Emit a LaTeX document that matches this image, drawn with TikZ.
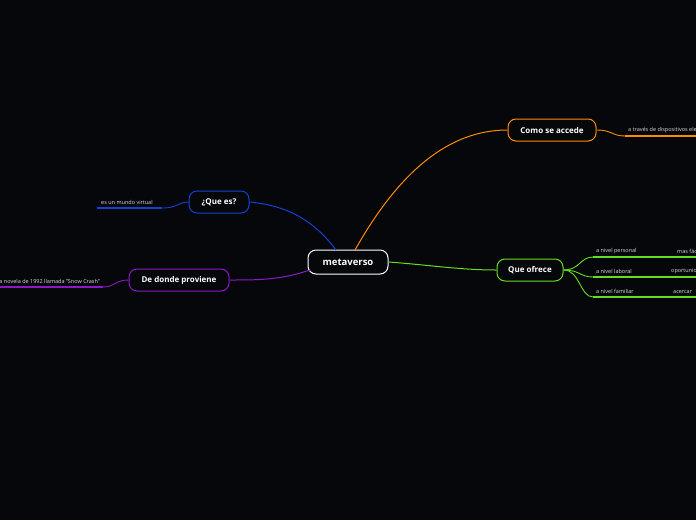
\documentclass[tikz,border=0pt]{standalone}
\usepackage{fontspec}
\setmainfont{Open Sans}
\begin{document}
\begin{tikzpicture}[x=1pt,y=-1pt,
 topic/.style={draw=#1,line width=1pt,rounded corners=8pt,fill=black!95!blue!40!black,text=white,font=\bfseries\fontsize{8}{9}\selectfont,minimum height=22pt,inner xsep=8pt},
 leaf/.style={text=white!85!black,font=\fontsize{5.5}{6}\selectfont,inner sep=1pt},
 ul/.style={draw=#1,line width=1.6pt},
 cn/.style={draw=#1,line width=0.9pt}]
\fill[black!90!blue!60!black] (0,0) rectangle (696,520);
\clip (0,0) rectangle (696,520);
\definecolor{bgc}{HTML}{06070A}
\fill[bgc] (0,0) rectangle (696,520);
\colorlet{orng}{orange!90!yellow}
\definecolor{blu}{HTML}{1440D8}
\definecolor{pur}{HTML}{8A1AC8}
\definecolor{grn}{HTML}{66DD22}
\node[topic=white,fill=bgc,minimum width=80pt,minimum height=24pt,font=\bfseries\fontsize{9.5}{10}\selectfont] (m) at (348,262) {metaverso};
\node[topic=orng,fill=bgc,minimum width=88pt] (c) at (552,130) {Como se accede};
\node[topic=blu,fill=bgc,minimum width=60pt] (q) at (219,202) {¿Que es?};
\node[topic=pur,fill=bgc,minimum width=100pt] (d) at (179,280) {De donde proviene};
\node[topic=grn,fill=bgc,minimum width=66pt] (o) at (530,270) {Que ofrece};
% edges main
\draw[cn=orng,line width=1pt] (355,250) .. controls (400,170) and (450,130) .. (c.west);
\draw[cn=blu,line width=1pt] (336,250) .. controls (310,215) and (280,205) .. (q.east);
\draw[cn=pur,line width=1pt] (310,270) .. controls (280,280) and (260,280) .. (d.east);
\draw[cn=grn,line width=1pt] (m.east) .. controls (430,265) and (460,270) .. (o.west);
% leaves
\coordinate (c1) at (625,136);
\draw[cn=orng] (c.east) .. controls (612,130) and (612,136) .. (c1);
\draw[ul=orng] (c1) -- (696,136);
\node[leaf,anchor=south west] (c1t) at (627,134) {a través de dispositivos electrónicos};
\coordinate (q1) at (162,208);
\draw[cn=blu] (q.west) .. controls (178,202) and (178,208) .. (q1);
\draw[ul=blu] (q1) -- (97,208);
\node[leaf,anchor=south west] (q1t) at (100,206) {es un mundo virtual};
\coordinate (d1) at (103,287);
\draw[cn=pur] (d.west) .. controls (115,280) and (115,287) .. (d1);
\draw[ul=pur] (d1) -- (0,287);
\node[leaf,anchor=south east] (d1t) at (101,285) {una novela de 1992 llamada "Snow Crash"};
\foreach \y/\a/\b/\n in {257/a nivel personal/mas fa/p,277/a nivel laboral/oportunid/l,297/a nivel familiar/acercar/f}{
 \coordinate (o\n) at (593,\y);
 \draw[cn=grn] (o.east) .. controls (580,270) and (580,\y) .. (o\n);
 \draw[ul=grn] (o\n) -- (645,\y);
 \draw[ul=grn] (645,\y) -- (696,\y);
 \node[leaf,anchor=south west] (o\n t) at (595,\y-2) {\a};
}
\node[leaf,anchor=south west] (op2) at (676,255) {mas fácil};
\node[leaf,anchor=south west] (ol2) at (670,275) {oportunidades};
\node[leaf,anchor=south west] (of2) at (672,295) {acercar};
\end{tikzpicture}
\end{document}
